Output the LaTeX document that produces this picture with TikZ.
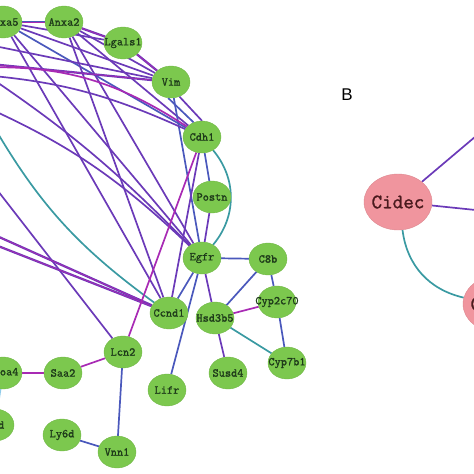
\documentclass[tikz,border=0pt]{standalone}
\usepackage{fontspec}
\setsansfont{Liberation Sans}
\newfontfamily\genefont{Latin Modern Mono}[FakeBold=1.3]
\usepackage{tikz}
\usetikzlibrary{shapes.geometric,backgrounds}
\definecolor{leaf}{HTML}{7CC84E}
\definecolor{leafink}{HTML}{1E3B1A}
\definecolor{blush}{HTML}{F0959E}
\definecolor{blushink}{HTML}{4A1A1E}
\definecolor{netpurple}{HTML}{6B3AB8}
\definecolor{netblue}{HTML}{4A58BC}
\definecolor{netmagenta}{HTML}{A82AB4}
\definecolor{netteal}{HTML}{3A9AA2}
\definecolor{netsky}{HTML}{8FCBEA}
\tikzset{
  genetext/.style={font=\genefont\fontsize{12}{13}\selectfont, text=leafink, inner sep=0pt},
  gene/.style={
    ellipse, fill=leaf, draw=leaf!92!black, thin,
    minimum width=38pt, minimum height=32pt, inner sep=0pt,
    label={[genetext]center:#1}
  },
  hubtext/.style={font=\genefont\fontsize{20.5}{22}\selectfont, text=blushink, inner sep=0pt},
  hub/.style={
    ellipse, fill=blush, draw=blush!92!black, thin,
    minimum width=68pt, minimum height=56pt, inner sep=0pt,
    label={[hubtext]center:#1}
  },
  link/.style={line width=1.7pt, draw=#1},
  link/.default=netpurple,
  twin/.style={draw=#1, line width=0.75pt, double=netmagenta, double distance=0.75pt},
  twin/.default=netpurple,
  panel/.style={font=\sffamily\fontsize{17}{18}\selectfont}
}

\begin{document}
\begin{tikzpicture}[x=1pt, y=-1pt]
  \useasboundingbox (0,0) rectangle (474,474);
  \clip (0,0) rectangle (474,474);

  % Panel A: right half of the circle layout
  \node[gene=Anxa5] (anxa5) at (3,22) {};
  \node[gene=Anxa2] (anxa2) at (64,22) {};
  \node[gene=Lgals1] (lgals1) at (123,43) {};
  \node[gene=Vim] (vim) at (171,82) {};
  \node[gene=Cdh1] (cdh1) at (202,137) {};
  \node[gene=Postn] (postn) at (212,197) {};
  \node[gene=Egfr] (egfr) at (202,258) {};
  \node[gene=C8b] (c8b) at (268,259) {};
  \node[gene=Cyp2c70] (cyp2c70) at (277,302) {};
  \node[gene=Ccnd1] (ccnd1) at (169,313) {};
  \node[gene=Hsd3b5] (hsd3b5) at (215,318) {};
  \node[gene=Cyp7b1] (cyp7b1) at (287,363) {};
  \node[gene=Susd4] (susd4) at (228,373) {};
  \node[gene=Lifr] (lifr) at (167,390) {};
  \node[gene=Lcn2] (lcn2) at (123,352) {};
  \node[gene=Saa2] (saa2) at (63,373) {};
  \node[gene=Apoa4] (apoa4) at (3,373) {};
  \node[gene=Cfd] (cfd) at (-5,425) {};
  \node[gene=Ly6d] (ly6d) at (62,435) {};
  \node[gene=Vnn1] (vnn1) at (117,452) {};

  % Panel B
  \node[panel] (blabel) at (347,95) {B};
  \node[hub=Cidec] (cidec) at (398,202) {};
  \node[hub=Cidea] (cidea) at (497,304) {};

  % partners lying outside the frame
  \coordinate (w1) at (-30,41);
  \coordinate (w2) at (-30,62);
  \coordinate (w3) at (-30,68);
  \coordinate (w4) at (-30,74);
  \coordinate (w5) at (-30,64);
  \coordinate (w6) at (-30,100);
  \coordinate (w7) at (-10,120);
  \coordinate (w8) at (-30,155);
  \coordinate (w9) at (-30,224);
  \coordinate (w10) at (-30,235);
  \coordinate (e1) at (495,120);
  \coordinate (e2) at (495,212);

  \begin{scope}[on background layer]
    \clip (0,0) rectangle (474,474);
    % top arc
    \draw[twin=netblue] (anxa5) -- (anxa2);
    \draw[link] (anxa5) -- (lgals1);
    \draw[twin] (anxa2) -- (lgals1);
    \draw[link] (anxa2) -- (vim);
    \draw[twin] (lgals1) -- (vim);
    \draw[link] (anxa5) -- (vim);
    \draw[link=netblue] (anxa5) -- (cdh1);
    \draw[link] (anxa2) -- (cdh1);
    \draw[link=netblue] (vim.-100) -- (cdh1.120);
    \draw[link] (vim.-60) -- (cdh1.90);
    \draw[link=netblue] (vim) -- (egfr);
    \draw[link] (anxa5) -- (egfr);
    \draw[link] (anxa5) -- (ccnd1);
    \draw[link] (anxa2) -- (ccnd1);
    \draw[link] (anxa2) -- (egfr);
    % lines from the hidden left half
    \draw[link] (w1) -- (vim);
    \draw[twin] (w2) -- (vim);
    \draw[link=netmagenta] (w3) to[bend left=18] (cdh1);
    \draw[link] (w4) to[bend left=10] (cdh1);
    \draw[link] (w5) to[bend left=6] (egfr);
    \draw[link] (w6) to[bend left=10] (egfr);
    \draw[link=netteal] (w7) to[bend right=12] (ccnd1);
    \draw[link] (w8) -- (lcn2);
    \draw[twin] (w9) -- (ccnd1);
    \draw[twin] (w10) -- (ccnd1);
    % around Egfr
    \draw[link=netblue] (cdh1) -- (postn);
    \draw[link=netteal] (cdh1) to[bend left=40] (egfr);
    \draw[link] (postn) -- (egfr);
    \draw[link=netmagenta] (cdh1) -- (lcn2);
    \draw[link] (cdh1) -- (ccnd1);
    \draw[link=netblue] (egfr) -- (ccnd1);
    \draw[link] (egfr) -- (hsd3b5);
    \draw[link=netblue] (egfr) -- (lifr);
    \draw[link=netblue] (egfr) -- (c8b);
    \draw[link=netblue] (c8b) -- (hsd3b5);
    \draw[link=netblue] (c8b) -- (cyp2c70);
    \draw[link=netmagenta] (cyp2c70) -- (hsd3b5);
    \draw[link=netblue] (cyp2c70) -- (cyp7b1);
    \draw[link=netteal] (hsd3b5) -- (cyp7b1);
    \draw[link] (hsd3b5) -- (susd4);
    % lower chain
    \draw[link=netmagenta] (lcn2) -- (saa2);
    \draw[link=netmagenta] (saa2) -- (apoa4);
    \draw[link=netsky] (apoa4) -- (cfd);
    \draw[link=netblue] (lcn2) -- (vnn1);
    \draw[link=netblue] (ly6d) -- (vnn1);
    % panel B
    \draw[link] (cidec) -- (e1);
    \draw[link] (cidec) -- (e2);
    \draw[link=netteal] (cidec) to[bend right=35] (cidea);
  \end{scope}
\end{tikzpicture}
\end{document}
